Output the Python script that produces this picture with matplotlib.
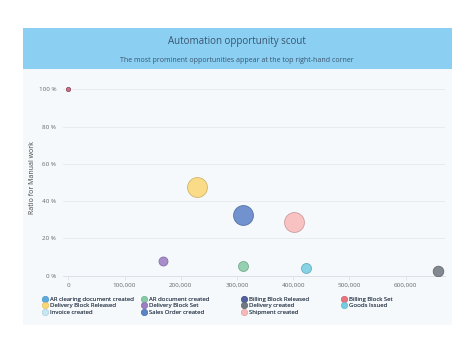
import matplotlib
matplotlib.use("Agg")
import matplotlib.pyplot as plt
from matplotlib.patches import Rectangle
from matplotlib.ticker import FuncFormatter
from matplotlib.colors import to_rgb

plt.rcParams['font.family'] = ['Open Sans', 'DejaVu Sans']

# activity -> (occurrences, manual ratio, bubble area, colour)
names = ["AR clearing document created", "AR document created", "Billing Block Released",
         "Billing Block Set", "Delivery Block Released", "Delivery Block Set",
         "Delivery created", "Goods Issued", "Invoice created",
         "Sales Order created", "Shipment created"]
occurrences = [0, 311400, 0, 0, 228500, 169000, 658400, 423500, 0, 311400, 401600]
manual_ratio = [1.0, 0.052, 1.0, 1.0, 0.478, 0.081, 0.025, 0.039, 1.0, 0.328, 0.287]
bubble = [8, 52, 8, 8, 205, 42, 58, 52, 8, 205, 205]
colors = ["#5aa9e0", "#83c9a4", "#4f5e9c", "#e8727c", "#fbd673", "#9a7cc2",
          "#6f767e", "#72cde2", "#c6e7f2", "#5a80c6", "#f9b7b8"]


def darker(c, f=0.8):
    r, g, b = to_rgb(c)
    return (r * f, g * f, b * f)


fig = plt.figure(figsize=(4.74, 3.55), dpi=100)

# panel background and header band
fig.patches.append(Rectangle((23/474, 1-325/355), 429/474, 256/355, transform=fig.transFigure,
                             facecolor="#f5f9fc", edgecolor="none", zorder=-2))
fig.patches.append(Rectangle((23/474, 1-69/355), 429/474, 41/355, transform=fig.transFigure,
                             facecolor="#8bcff2", edgecolor="none", zorder=-1))
fig.text(0.5, 1-41.5/355, "Automation opportunity scout", ha="center", va="center",
         fontsize=7, color="#3b556e")
fig.text(0.5, 1-60/355, "The most prominent opportunities appear at the top right-hand corner",
         ha="center", va="center", fontsize=5, color="#3b556e")

ax = fig.add_axes([63/474, 1-275.7/355, 382/474, 195.7/355])
ax.set_facecolor("none")

# small overlapping dots at 100 %: light ones first, red one on top
draw_order = [8, 0, 2, 3, 1, 4, 5, 6, 7, 9, 10]
for i in draw_order:
    ax.scatter(occurrences[i], manual_ratio[i], s=bubble[i], color=colors[i],
               alpha=0.85, edgecolors=darker(colors[i]), linewidths=0.6, zorder=3)

ax.set_xlim(-9400, 670000)
ax.set_ylim(0, 1.05)
ax.set_xticks([0, 100000, 200000, 300000, 400000, 500000, 600000])
ax.set_yticks([0, 0.2, 0.4, 0.6, 0.8, 1.0])
ax.xaxis.set_major_formatter(FuncFormatter(lambda v, p: f"{int(v):,}"))
ax.yaxis.set_major_formatter(FuncFormatter(lambda v, p: f"{round(v*100)} %"))
ax.tick_params(axis="x", labelsize=4.5, colors="#666666", length=3, width=0.5,
               color="#d8dde3", pad=2)
ax.tick_params(axis="y", labelsize=4.5, colors="#666666", length=0, pad=5)
ax.grid(axis="y", color="#e6e9ed", linewidth=0.6)
for side in ["top", "right", "left"]:
    ax.spines[side].set_visible(False)
ax.spines["bottom"].set_color("#d8dde3")
ax.spines["bottom"].set_linewidth(0.6)
ax.set_ylabel("Ratio for Manual work", fontsize=5, color="#444444", labelpad=2)

# legend: four fixed-width columns, filled row by row
ncols = 4
col_x = [42, 141, 241, 341]
for c in range(ncols):
    idx = list(range(c, len(names), ncols))
    hs = [plt.Line2D([], [], marker="o", linestyle="none", markersize=4.5,
                     markerfacecolor=colors[i], markeredgecolor=darker(colors[i], 0.9),
                     markeredgewidth=0.4, alpha=0.85) for i in idx]
    leg = fig.legend(hs, [names[i] for i in idx], loc="upper left",
                     bbox_to_anchor=(col_x[c]/474, 1-296.5/355), frameon=False,
                     fontsize=4.3, handletextpad=0.4, labelspacing=0.25,
                     handlelength=1.0, borderaxespad=0, borderpad=0,
                     labelcolor="#3a4656")
    fig.add_artist(leg)

fig.savefig("out.png", dpi=100)
